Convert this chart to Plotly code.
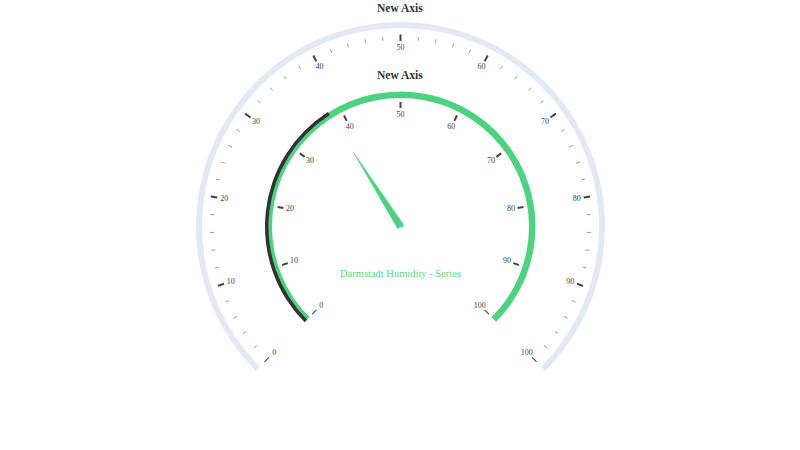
import plotly.graph_objs as go

# Gauge data
gauge_min = 0
gauge_max = 100
humidity_value = 38
major_ticks = [0, 10, 20, 30, 40, 50, 60, 70, 80, 90, 100]
minor_ticks = [v for v in range(0, 101, 2) if v % 10 != 0]
tick_labels = [str(v) for v in major_ticks]
axis_titles = ['New Axis', 'New Axis']
series_name = 'Darmstadt Humidity - Series'

# 270 degree sweep, value -> theta in degrees (rotation/direction set on the axis)
SWEEP = 270


def to_theta(v):
    return (v - gauge_min) / (gauge_max - gauge_min) * SWEEP


def radial_segments(values, r0, r1):
    rs, ts = [], []
    for v in values:
        rs += [r0, r1, None]
        ts += [to_theta(v), to_theta(v), None]
    return rs, ts


GREEN = '#4cd37f'
DARK = '#333333'
TICK = '#444444'
FONT = 'Liberation Serif'

fig = go.Figure()

# outer band
fig.add_trace(go.Barpolar(
    r=[6], base=[198.5], theta=[to_theta(50)], width=[SWEEP],
    marker=dict(color='#e2e9f5', line=dict(width=0)), hoverinfo='skip'))

# inner band (full range, green) and value band (dark)
fig.add_trace(go.Barpolar(
    r=[6.5], base=[128.5], theta=[to_theta(50)], width=[SWEEP],
    marker=dict(color=GREEN, line=dict(width=0)), hoverinfo='skip'))
fig.add_trace(go.Barpolar(
    r=[3.5], base=[132], theta=[to_theta(humidity_value) / 2], width=[to_theta(humidity_value)],
    marker=dict(color=DARK, line=dict(width=0)), hoverinfo='skip'))

# outer ticks
r, t = radial_segments(minor_ticks, 186.5, 190.5)
fig.add_trace(go.Scatterpolar(r=r, theta=t, mode='lines',
                              line=dict(color='#9a9a9a', width=1), hoverinfo='skip'))
r, t = radial_segments(major_ticks, 185.5, 192)
fig.add_trace(go.Scatterpolar(r=r, theta=t, mode='lines',
                              line=dict(color=TICK, width=2), hoverinfo='skip'))
fig.add_trace(go.Scatterpolar(
    r=[178.5] * len(major_ticks), theta=[to_theta(v) for v in major_ticks],
    mode='text', text=tick_labels, textfont=dict(family=FONT, size=8, color=TICK),
    hoverinfo='skip'))

# inner ticks
r, t = radial_segments(major_ticks, 118.5, 124.5)
fig.add_trace(go.Scatterpolar(r=r, theta=t, mode='lines',
                              line=dict(color=TICK, width=2), hoverinfo='skip'))
fig.add_trace(go.Scatterpolar(
    r=[112] * len(major_ticks), theta=[to_theta(v) for v in major_ticks],
    mode='text', text=tick_labels, textfont=dict(family=FONT, size=8, color=TICK),
    hoverinfo='skip'))

# needle
nt = to_theta(humidity_value)
fig.add_trace(go.Scatterpolar(
    r=[88, 3.5, 2.5, 3.5, 88], theta=[nt, nt + 90, nt + 180, nt - 90, nt],
    mode='lines', fill='toself', fillcolor=GREEN,
    line=dict(color=GREEN, width=0.5), hoverinfo='skip'))

cx, cy, R = 400.5, 226.5, 205
W, H = 800, 450
fig.update_layout(
    width=W, height=H,
    margin=dict(l=0, r=0, t=0, b=0),
    paper_bgcolor='white',
    showlegend=False,
    polar=dict(
        domain=dict(x=[(cx - R) / W, (cx + R) / W],
                    y=[1 - (cy + R * 0.70711) / H, 1 - (cy - R) / H]),
        sector=[-45, 225],
        bgcolor='white',
        barmode='overlay',
        radialaxis=dict(range=[0, R], visible=False),
        angularaxis=dict(rotation=225, direction='clockwise', visible=False,
                         showgrid=False, showline=False),
    ),
    annotations=[
        dict(text='<b>%s</b>' % axis_titles[0], x=400 / W, y=1 - 8 / H,
             xref='paper', yref='paper', showarrow=False, yanchor='middle',
             font=dict(family=FONT, size=11.5, color='#333333')),
        dict(text='<b>%s</b>' % axis_titles[1], x=400 / W, y=1 - 75 / H,
             xref='paper', yref='paper', showarrow=False, yanchor='middle',
             font=dict(family=FONT, size=11.5, color='#333333')),
        dict(text=series_name, x=400 / W, y=1 - 273 / H,
             xref='paper', yref='paper', showarrow=False, yanchor='middle',
             font=dict(family=FONT, size=10.5, color='#5fd48e')),
    ],
)

# drop the default page margin so the figure sits at the window corner
fig.write_html('out.html', config={'displayModeBar': False},
               post_script="document.body.style.margin = '0px';")
